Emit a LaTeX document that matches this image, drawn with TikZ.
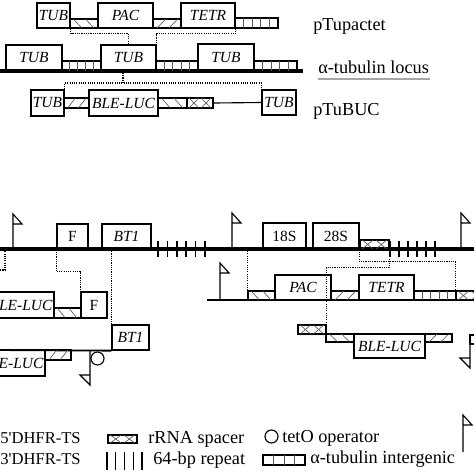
\documentclass[tikz,border=0pt]{standalone}
\usepackage{fontspec}
\setmainfont{Liberation Serif}
\usetikzlibrary{fit}

\tikzset{
    genebox/.style={draw, line width=0.9pt, inner sep=0pt},
    gene/.style={inner sep=0pt, font=\fontsize{11}{13}\selectfont\itshape},
    generm/.style={inner sep=0pt, font=\fontsize{11}{13}\selectfont},
    seg/.style={draw, line width=0.8pt, inner sep=0pt},
    hatchline/.style={line width=0.45pt, gray!70!black},
    chrom/.style={line width=2.2pt},
    rowline/.style={line width=1.3pt},
    link/.style={line width=0.8pt, dash pattern=on 0.8pt off 0.8pt},
    flagline/.style={line width=0.8pt, line join=miter},
    repeatline/.style={line width=1pt},
    teto/.style={draw, circle, line width=0.8pt, minimum size=0.325cm, inner sep=0pt},
    title/.style={anchor=base west, inner sep=0pt, font=\fontsize{13}{15}\selectfont},
    legtext/.style={inner sep=0pt, font=\fontsize{13}{15}\selectfont}
}

% gene box: [text style] name, x1, y1, x2, y2, text
\newcommand{\gene}[7][gene]{%
    \node[genebox, fit={(#3,#4) (#5,#6)}] (#2) {};
    \node[#1] at (#2.center) {#7};}
% DHFR-TS segment: name, x1, y1, x2, y2, 0 = back slash, 1 = slash
\newcommand{\dhfr}[6]{%
    \node[seg, fit={(#2,#3) (#4,#5)}] (#1) {};
    \ifnum#6=0
        \draw[hatchline] ({#2+0.12*(#4-#2)},#3) -- ({#2+0.42*(#4-#2)},#5)
            ({#2+0.55*(#4-#2)},#3) -- ({#2+0.85*(#4-#2)},#5);
    \else
        \draw[hatchline] ({#2+0.15*(#4-#2)},#5) -- ({#2+0.45*(#4-#2)},#3)
            ({#2+0.58*(#4-#2)},#5) -- ({#2+0.88*(#4-#2)},#3);
    \fi}
% rRNA spacer segment
\newcommand{\rspacer}[5]{%
    \node[seg, fit={(#2,#3) (#4,#5)}] (#1) {};
    \draw[hatchline] ({#2+0.08*(#4-#2)},#3) -- ({#2+0.45*(#4-#2)},#5)
        ({#2+0.08*(#4-#2)},#5) -- ({#2+0.45*(#4-#2)},#3)
        ({#2+0.55*(#4-#2)},#3) -- ({#2+0.92*(#4-#2)},#5)
        ({#2+0.55*(#4-#2)},#5) -- ({#2+0.92*(#4-#2)},#3);}
% alpha-tubulin intergenic segment with #6 cells
\newcommand{\intergenic}[6]{%
    \node[seg, fit={(#2,#3) (#4,#5)}] (#1) {};
    \foreach \k in {1,...,\numexpr#6-1\relax}
        \draw[hatchline] ({#2+\k*(#4-#2)/#6},#3) -- ({#2+\k*(#4-#2)/#6},#5);}
% promoter flags: x, top, base
\newcommand{\flagup}[3]{\draw[flagline] (#1,#3) -- (#1,#2) -- (#1+9,#2+10) -- (#1,#2+10);}
\newcommand{\flagdown}[3]{\draw[flagline] (#1,#2) -- (#1,#3) -- (#1-10,#3-10) -- (#1,#3-10);}

\begin{document}
\begin{tikzpicture}[x=0.025cm, y=-0.025cm]
    \useasboundingbox (0,0) rectangle (474,474);
    \clip (0,0) rectangle (474,474);
    % pTupactet
    \gene{tubA}{37}{3}{70}{28}{TUB}
    \dhfr{dhA}{70}{19}{98}{28}{0}
    \gene{pacA}{98}{3}{153}{28}{PAC}
    \dhfr{dhB}{153}{19}{181}{28}{1}
    \gene{tetrA}{181}{3}{235}{28}{TETR}
    \intergenic{igA}{235}{18}{278}{28}{5}
    \node[title] (ptupactet) at (313,30) {pTupactet};
    % alpha-tubulin locus
    \draw[chrom] (0,71) -- (303,71);
    \gene{tubB1}{6}{45}{62}{71}{TUB}
    \intergenic{igB1}{62}{61}{101}{71}{5}
    \gene{tubB2}{101}{45}{156}{71}{TUB}
    \intergenic{igB2}{156}{61}{198}{71}{5}
    \gene{tubB3}{198}{44}{254}{71}{TUB}
    \intergenic{igB3}{254}{61}{297}{71}{5}
    \node[title] (locus) at (318,73) {α-tubulin locus};
    \draw[gray!70, line width=1pt] (318,79) -- (430,79);
    % pTuBUC
    \gene{tubC}{31}{90}{64}{116}{TUB}
    \dhfr{dhC}{64}{98}{89}{108}{1}
    \gene{bleC}{89}{90}{158}{116}{BLE-LUC}
    \dhfr{dhD}{158}{98}{187}{108}{0}
    \rspacer{spD}{187}{98}{213}{108}
    \gene{tubD}{262}{90}{296}{115}{TUB}
    \draw[seg] (spD.east) -- (tubD.west);
    \node[title] (ptubuc) at (313,115) {pTuBUC};
    \draw[link] (tubA.south east) -- ++(0,5) -| (tubB2.north);
    \draw[link] (tetrA.south east) -- ++(0,5) -| (tubB2.north east);
    \coordinate (split) at (123,83);
    \draw[link] (tubC.north east) |- (split) -| (tubD.north west);
    \draw[link] (split) -- (split |- tubB2.south);

    % rDNA locus
    \coordinate (chrom) at (0,249);
    \draw[chrom] (-5,249) -- (480,249);
    \gene[generm]{fA}{57}{224}{88}{249}{F}
    \gene{btA}{102}{224}{151}{249}{BT1}
    \gene[generm]{s18}{263}{223}{306}{249}{18S}
    \gene[generm]{s28}{313}{223}{359}{249}{28S}
    \rspacer{spA}{360}{240}{389}{249}
    \foreach \t in {0,...,5}
        \draw[repeatline] ({158+9.4*\t},241) -- ++(0,16);
    \foreach \t in {0,...,5}
        \draw[repeatline] ({390+9*\t},241) -- ++(0,16);
    \flagup{13}{214}{249}
    \flagup{232}{213}{249}
    \flagup{461}{213}{249}
    % F construct
    \gene{bleF}{-12}{292}{54}{318}{BLE-LUC}
    \dhfr{dhF}{54}{308}{81}{318}{0}
    \gene[generm]{fB}{81}{292}{107}{318}{F}
    % BT1 construct
    \gene{btB}{112}{325}{149}{350}{BT1}
    \draw[rowline] (-5,350) -- (btB.south west);
    \gene{bleB}{-21}{350}{45}{376}{BLE-LUC}
    \dhfr{dhG}{45}{350}{71}{360}{1}
    \node[teto] (tetoB) at (97.5,358.5) {};
    \flagdown{90}{350}{385}
    % PAC / TETR construct
    \draw[rowline] (207,300) -- (480,300);
    \dhfr{dhH}{248}{291}{275}{300}{0}
    \gene{pacB}{275}{275}{331}{300}{PAC}
    \dhfr{dhI}{331}{291}{359}{300}{1}
    \gene{tetrB}{359}{275}{414}{300}{TETR}
    \intergenic{igH}{414}{291}{456}{300}{5}
    \rspacer{spB}{456}{291}{484}{300}
    \flagup{220}{263}{300}
    % BLE-LUC construct
    \rspacer{spC}{298}{325}{326}{334}
    \dhfr{dhJ}{326}{334}{354}{342}{0}
    \gene{bleD}{354}{334}{425}{358}{BLE-LUC}
    \dhfr{dhK}{425}{334}{452}{342}{1}
    \node[seg, fit={(470,335) (486,344)}] (spE) {};
    \flagdown{470}{344}{368}
    % connectors
    \coordinate (offl) at (-5,270);
    \draw[link] (5,249) -- (5,270) -- (offl);
    \draw[link] (fA.south west) -- ++(0,22) -| (fB.north west);
    \draw[link] (btB.north west) -- (btB.north west |- chrom);
    \draw[link] (dhH.north west) -- (dhH.north west |- chrom);
    \draw[link] (spA.south west) -- ++(0,12) -| (spB.north west);
    \draw[link] (spA.south east) -- ++(0,18) -| (spC.south east);

    % legend
    \node[legtext, anchor=base east, font=\fontsize{11.8}{14}\selectfont] (l5) at (81,443) {5\textquotesingle DHFR-TS};
    \node[legtext, anchor=base east, font=\fontsize{11.8}{14}\selectfont] (l3) at (81,464) {3\textquotesingle DHFR-TS};
    \rspacer{legsp}{108}{435}{137}{443}
    \node[legtext, anchor=base west] (lsp) at (148,443) {rRNA spacer};
    \foreach \t in {0,...,4}
        \draw[repeatline] ({107+8.75*\t},452) -- ++(0,18);
    \node[legtext, anchor=base west] (lrep) at (153,464) {64-bp repeat};
    \node[teto] (legteto) at (271.5,436.5) {};
    \node[legtext, anchor=base west] (lteto) at (282,442) {tetO operator};
    \intergenic{legig}{263}{455}{305}{465}{4}
    \node[legtext, anchor=base west] (lig) at (310,463) {α-tubulin intergenic};
    \flagup{463}{415}{452}
\end{tikzpicture}
\end{document}
